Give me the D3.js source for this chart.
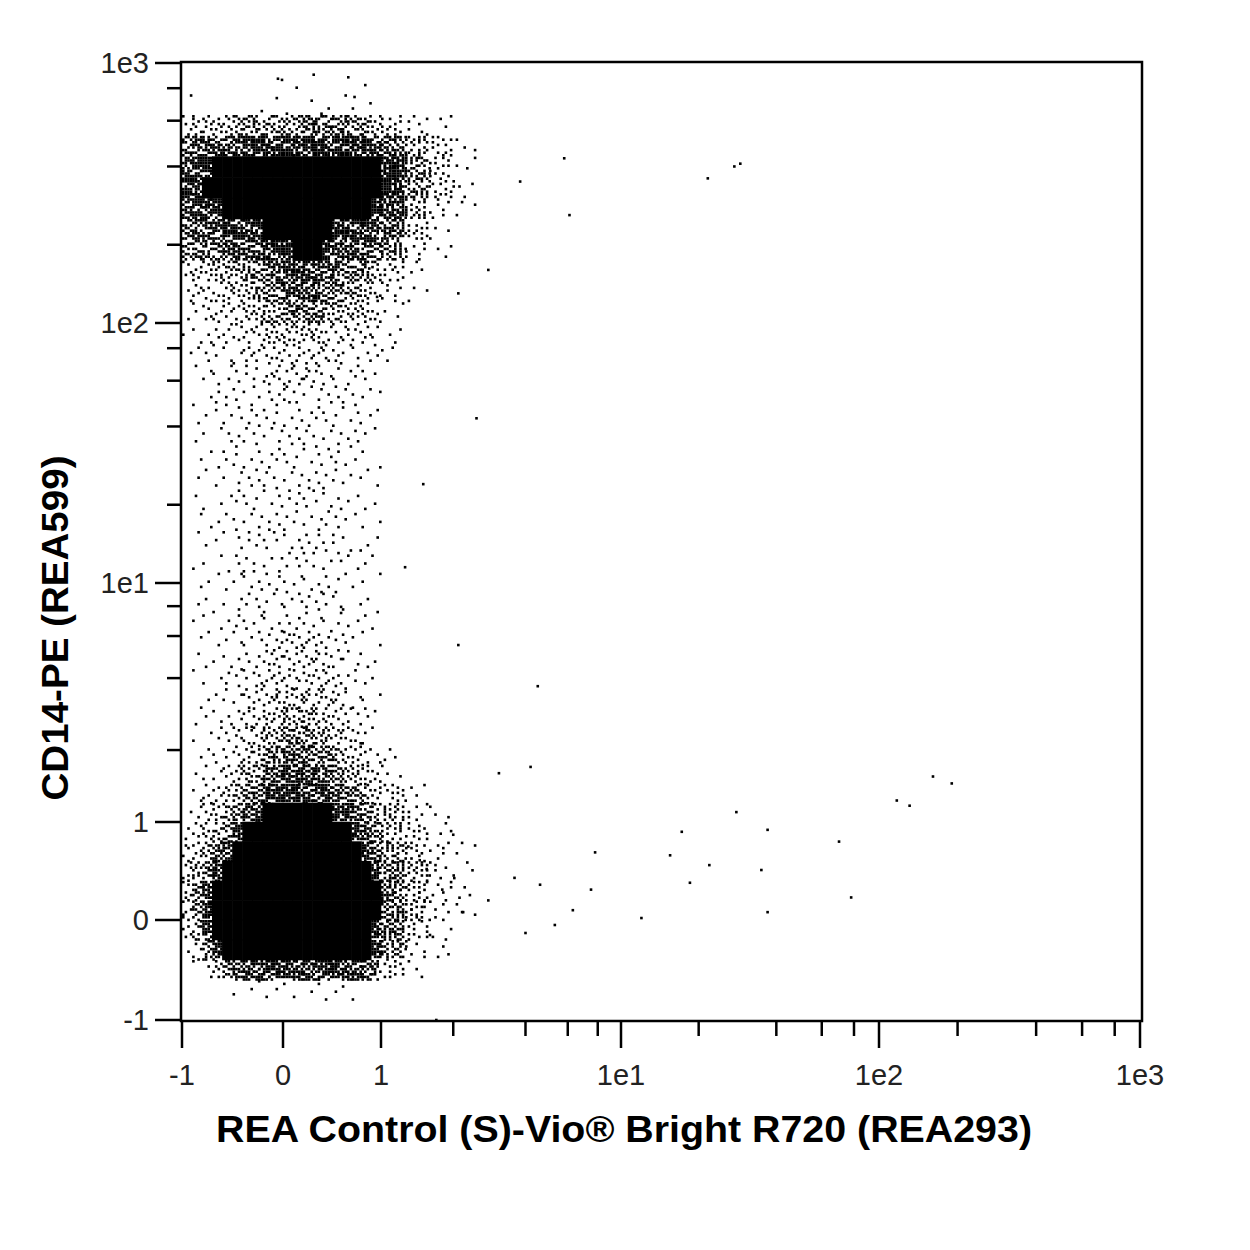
<!DOCTYPE html>
<html>
<head>
<meta charset="utf-8">
<script src="https://cdn.jsdelivr.net/npm/d3@7"></script>
<style>
  body { margin: 0; background: #fff; }
  text { font-family: "Liberation Sans", Arial, sans-serif; }
</style>
</head>
<body>
<div id="chart"></div>
<script>
// axis decades (biexponential: linear -1..1, log above)
const xTicks = [-1, 0, 1, 10, 100, 1000];
const xTickLabels = ["-1", "0", "1", "1e1", "1e2", "1e3"];
const yTicks = [-1, 0, 1, 10, 100, 1000];
const yTickLabels = ["-1", "0", "1", "1e1", "1e2", "1e3"];
const minorMult = [2, 4, 6, 8];

// density grid (0-9), columns are 0.1 transformed units from x=-1
const gridX0 = -1.0, gridDX = 0.1;
// log rows: bottom t = 1 + 0.08*k, k from 36 down to 0
const gridRowsLog = [
  "00000000010101001010000000",
  "10000001011011101110000000",
  "34444555555566666554321000",
  "67777788888888888887643100",
  "78899999999999999999853100",
  "88999999999999999999853100",
  "78889999999999999998742100",
  "67778888999999988887631000",
  "56667777888999877776521000",
  "34455566778888776665310000",
  "23334445667777665543210000",
  "12333344556666554443100000",
  "12223333444444333332100000",
  "11222233333333332222100000",
  "01222222333333222221000000",
  "01122222223222222221000000",
  "01112222222222222211000000",
  "01112222222222222211000000",
  "01112222222222221111000000",
  "01111222222222222111000000",
  "01111222222222221111000000",
  "01111222222222221111000000",
  "01111222222222222111000000",
  "01111222222222221111000000",
  "01111222222222221111000000",
  "01111222222222221111000000",
  "01111222222222221111000000",
  "01111222233333222111000000",
  "01112222333333322211000000",
  "01112223333333332211000000",
  "01112233344444332211000000",
  "01122233445554433221000000",
  "01122334556665543321000000",
  "01122344667776654432100000",
  "01223455778887765543100000",
  "02334567888888876654310000",
  "12345678999999988765421000"
];
// linear rows: bottom t = 0.8, 0.6 ... -0.8
const gridRowsLin = [
  "23456899999999999876431000",
  "34578999999999999987532100",
  "45689999999999999998642100",
  "46899999999999999999642100",
  "46899999999999999999642100",
  "35899999999999999998631000",
  "13689999999999999998521000",
  "01246788888888888876310000",
  "00000111111111111100000000"
];

// sparse events [x, y]
const outliers = [
  [5.8, 430], [3.8, 350], [6.1, 260], [21.7, 360], [27.5, 400], [29, 410],
  [2.8, 160], [2.1, 130], [2.5, 43], [1.5, 24], [1.26, 11.5], [2.1, 5.5],
  [4.5, 3.7], [3.1, 1.6], [4.2, 1.7], [161, 1.55], [190, 1.45], [117, 1.23],
  [131, 1.17], [28, 1.1], [17.2, 0.9], [37, 0.92], [70, 0.8], [7.8, 0.69],
  [15.5, 0.66], [22, 0.56], [35, 0.51], [3.6, 0.43], [18.5, 0.38], [4.6, 0.36],
  [7.5, 0.31], [78, 0.23], [3720, 0.14], [37, 0.08], [12, 0.02], [6.3, 0.1],
  [4, -0.13], [5.3, -0.05], [2.8, 0.2], [2.2, 0.08], [1.6, -0.15], [1.7, -1.0],
  [1.45, 0.61], [2.0, 0.87], [1.8, 0.31], [-0.05, 870], [0.73, 740],
  [0.88, 162], [0.96, 126], [1.3, 0.75], [1.55, 0.52], [1.12, 0.28]
];

const tf = v => (v <= 1 ? v : 1 + Math.log10(v));
const x = d3.scaleLinear().domain([-1, 0, 1, 2, 3, 4]).range([182, 283, 381, 621, 879, 1140]);
const y = d3.scaleLinear().domain([-1, 0, 1, 2, 3, 4]).range([1020, 920, 822, 583, 323, 63]);

const svg = d3.select("#chart").append("svg").attr("width", 1250).attr("height", 1250);
const dots = svg.append("g");
const dot = 2.6;
const fracs = [0, 0.04, 0.1, 0.18, 0.3, 0.44, 0.62, 0.85, 1.1, 1];
const a1 = 0.7548776662, a2 = 0.5698402910; // quasi-uniform placement inside a cell
let seed = 0;

function drawCell(tx0, tx1, ty0, ty1, d) {
  seed += 17;
  if (d === 0) return;
  const px0 = x(tx0), px1 = x(tx1), py0 = y(ty1), py1 = y(ty0);
  if (d === 9) {
    dots.append("rect").attr("x", px0 - 0.3).attr("y", py0 - 0.3)
      .attr("width", px1 - px0 + 0.6).attr("height", py1 - py0 + 0.6).attr("fill", "#000");
    return;
  }
  const w = px1 - px0, h = py1 - py0;
  const n = Math.max(1, Math.floor(w / dot) * Math.floor(h / dot));
  const count = Math.max(1, Math.round(n * fracs[d]));
  for (let i = 0; i < count; i++) {
    const u = (0.5 + (i + seed) * a1) % 1, v = (0.5 + (i + seed) * a2) % 1;
    dots.append("rect")
      .attr("x", px0 + Math.floor(u * w / dot) * dot)
      .attr("y", py0 + Math.floor(v * h / dot) * dot)
      .attr("width", dot).attr("height", dot).attr("fill", "#000");
  }
}

gridRowsLog.forEach((row, r) => {
  const k = gridRowsLog.length - 1 - r;
  const ty0 = 1 + 0.08 * k;
  row.split("").forEach((c, i) => {
    drawCell(gridX0 + i * gridDX, gridX0 + (i + 1) * gridDX, ty0, ty0 + 0.08, +c);
  });
});
gridRowsLin.forEach((row, r) => {
  const ty0 = 0.8 - 0.2 * r;
  row.split("").forEach((c, i) => {
    drawCell(gridX0 + i * gridDX, gridX0 + (i + 1) * gridDX, ty0, ty0 + 0.2, +c);
  });
});

dots.selectAll("rect.out").data(outliers).enter().append("rect")
  .attr("class", "out")
  .attr("x", d => x(tf(d[0])) - 1.3).attr("y", d => y(tf(d[1])) - 1.3)
  .attr("width", dot).attr("height", dot).attr("fill", "#000");

// frame
svg.append("rect").attr("x", 181).attr("y", 62).attr("width", 961).attr("height", 959)
  .attr("fill", "none").attr("stroke", "#000").attr("stroke-width", 2.5);

// minor ticks
const minors = [];
[1, 10, 100].forEach(b => minorMult.forEach(m => minors.push(b * m)));

const ax = svg.append("g");
xTicks.forEach((v, i) => {
  ax.append("line").attr("x1", x(tf(v))).attr("x2", x(tf(v))).attr("y1", 1021).attr("y2", 1048)
    .attr("stroke", "#000").attr("stroke-width", 2.5);
  ax.append("text").attr("x", x(tf(v))).attr("y", 1085).attr("text-anchor", "middle")
    .attr("font-size", 29).attr("fill", "#222").text(xTickLabels[i]);
});
minors.forEach(v => {
  ax.append("line").attr("x1", x(tf(v))).attr("x2", x(tf(v))).attr("y1", 1021).attr("y2", 1036)
    .attr("stroke", "#000").attr("stroke-width", 2.5);
  ax.append("line").attr("x1", 167).attr("x2", 181).attr("y1", y(tf(v))).attr("y2", y(tf(v)))
    .attr("stroke", "#000").attr("stroke-width", 2.5);
});
yTicks.forEach((v, i) => {
  ax.append("line").attr("x1", 155).attr("x2", 181).attr("y1", y(tf(v))).attr("y2", y(tf(v)))
    .attr("stroke", "#000").attr("stroke-width", 2.5);
  ax.append("text").attr("x", 149).attr("y", y(tf(v)) + 10).attr("text-anchor", "end")
    .attr("font-size", 29).attr("fill", "#222").text(yTickLabels[i]);
});

// titles
svg.append("text").attr("x", 624).attr("y", 1142).attr("text-anchor", "middle")
  .attr("font-family", "'Open Sans', sans-serif").attr("font-weight", "bold").attr("font-size", 37)
  .attr("textLength", 816).attr("lengthAdjust", "spacingAndGlyphs")
  .text("REA Control (S)-Vio® Bright R720 (REA293)");
svg.append("text").attr("transform", "translate(68,628) rotate(-90)").attr("text-anchor", "middle")
  .attr("font-family", "'Open Sans', sans-serif").attr("font-weight", "bold").attr("font-size", 37)
  .attr("textLength", 345).attr("lengthAdjust", "spacingAndGlyphs")
  .text("CD14-PE (REA599)");
</script>
</body>
</html>
